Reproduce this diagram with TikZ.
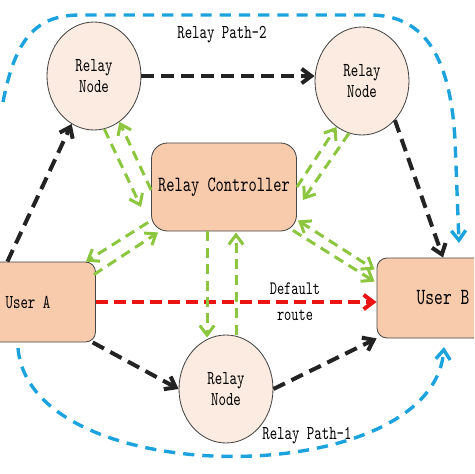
\documentclass[tikz,border=0pt]{standalone}
\usepackage{fontspec}
\newfontfamily\diagfont{lmmono10-regular.otf}[FakeStretch=0.72]
\usetikzlibrary{arrows.meta, positioning, shapes.geometric, calc}
\definecolor{ctrlfill}{RGB}{248,203,173}
\definecolor{relayfill}{RGB}{251,235,224}
\definecolor{edgegray}{RGB}{70,70,70}
\definecolor{hopblack}{RGB}{35,35,35}
\definecolor{ctlgreen}{RGB}{140,198,63}
\definecolor{pathblue}{RGB}{28,163,222}
\definecolor{routered}{RGB}{235,20,20}

\begin{document}
\begin{tikzpicture}[
    x=0.25mm, y=-0.25mm,
    >={Straight Barb[length=2.4mm,width=3.6mm]},
    relay/.style={draw=edgegray, line width=0.6pt, ellipse, fill=relayfill, minimum width=23.5mm, minimum height=27mm, inner sep=0pt, align=center, font={\diagfont\fontsize{14}{15}\selectfont}},
    ctrlbox/.style={draw=edgegray, line width=0.6pt, rectangle, rounded corners=4mm, fill=ctrlfill, minimum width=36.25mm, minimum height=22mm, inner sep=1pt, font={\diagfont\fontsize{15.5}{18}\selectfont}},
    user/.style={draw=edgegray, line width=0.6pt, rectangle, rounded corners=2.5mm, fill=ctrlfill, minimum height=20mm, inner sep=1pt},
    lbl/.style={font={\diagfont\fontsize{14}{15}\selectfont}},
    hop/.style={->, hopblack, line width=1mm, dash pattern=on 3.2mm off 1.8mm},
    ctl/.style={ctlgreen, line width=0.75mm, dash pattern=on 2.5mm off 1.6mm},
    detour/.style={->, pathblue, line width=0.85mm, dash pattern=on 2.8mm off 2mm},
    defroute/.style={->, routered, line width=1mm, dash pattern=on 3mm off 1.5mm}
]
\useasboundingbox (0,0) rectangle (474,474);
\clip (0,0) rectangle (474,474);

% Relay nodes, controller and users positioned explicitly
\node[relay] (rnL) at (94,76) {Relay\\Node};
\node[relay] (rnR) at (362,81) {Relay\\Node};
\node[relay] (rnB) at (226,389) {Relay\\Node};
\node[ctrlbox] (ctrl) at (224,187) {Relay Controller};
\node[user, minimum width=33.75mm, font={\diagfont\fontsize{14}{15}\selectfont}] (userA) at (28,302) {User A};
\node[user, minimum width=33mm, font={\diagfont\fontsize{16.5}{18}\selectfont}] (userB) at (443,298) {User B};

% Path labels
\node[lbl] (path2) at (222,35) {Relay Path-2};
\node[lbl] (path1) at (307,436) {Relay Path-1};
\node[lbl, align=center, font={\diagfont\fontsize{13.5}{18.5}\selectfont}] (deflt) at (295,302) {Default\\route};

% Relay hops (black)
\draw[hop] (userA.117) -- (rnL.-115);
\draw[hop] (rnL.east) -- (rnL.east -| rnR.west);
\draw[hop] (rnR.-50) -- (userB.north);
\draw[hop] (userA.-32) -- (rnB.west);
\draw[hop] (rnB.east) -- (userB.south west);

% Default route (red)
\draw[defroute] (userA.east) -- (userA.east -| userB.west);

% Control links (green)
\draw[ctl, ->] (rnL.-79) -- ($(ctrl.west)+(-10,20)$);
\draw[ctl, ->] ($(ctrl.west)+(0,3)$) -- (rnL.-61);
\draw[ctl, ->] (rnR.-104) -- ($(ctrl.east)+(6,13)$);
\draw[ctl, ->] (ctrl.east) -- (rnR.-119);
\draw[ctl, ->] ($(ctrl.south west)+(-3,-9)$) -- ($(userA.north east)+(-10,0)$);
\draw[ctl, ->] ($(userA.north east)+(-2,13)$) -- ($(ctrl.south west)+(7,1)$);
\draw[ctl, <->] ($(ctrl.south east)+(1,-11)$) -- ($(userB.north west)+(-2,12)$);
\draw[ctl, ->] ($(ctrl.south east)+(-4,-1)$) -- ($(userB.north west)+(-2,24)$);
\draw[ctl, ->] ($(ctrl.south)+(-17,0)$) -- ($(rnB.north)+(-19,3)$);
\draw[ctl, ->] ($(rnB.north)+(10,0)$) -- ($(ctrl.south)+(12,1)$);

% Relay paths (blue)
\coordinate (p2start) at (3,102);
\coordinate (p2end) at (459,243);
\draw[detour] (p2start) .. controls (15,40) and (35,15) .. (80,15) -- (370,15)
    .. controls (420,15) and (450,50) .. (455,140) -- (p2end);
\coordinate (p1start) at (18,348);
\coordinate (p1end) at (444,347);
\draw[detour] (p1start) .. controls (30,492) and (432,492) .. (p1end);
\end{tikzpicture}
\end{document}
